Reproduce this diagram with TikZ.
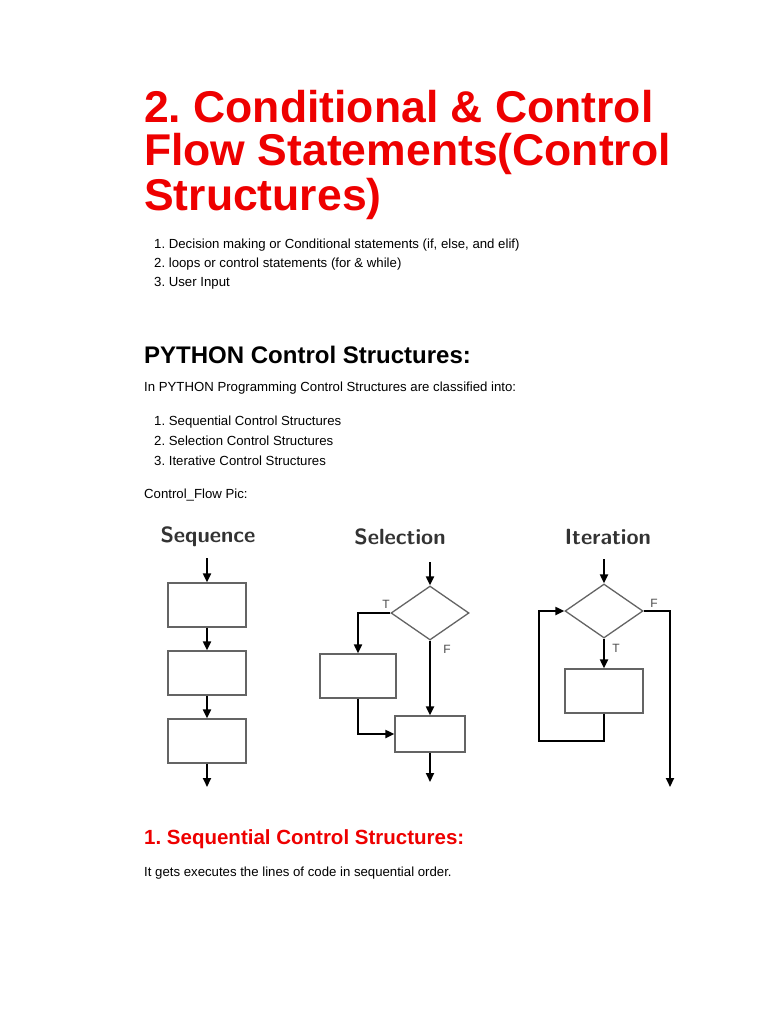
\documentclass[tikz,border=0pt]{standalone}
\usepackage{fontspec}
\setmainfont{Liberation Sans}
\usetikzlibrary{shapes.geometric,arrows.meta}
\definecolor{titlered}{RGB}{238,0,0}
\definecolor{boxgray}{RGB}{100,100,100}
\frenchspacing

\begin{document}
\begin{tikzpicture}[x=1pt,y=-1pt,
    every node/.style={inner sep=0pt},
    body/.style={anchor=west,font=\fontsize{13.2}{15}\selectfont},
    bigtitle/.style={anchor=west,font=\fontsize{44.5}{48}\selectfont\bfseries,text=titlered},
    procbox/.style={draw=boxgray,line width=1.3pt,minimum width=78pt,minimum height=44pt},
    decision/.style={draw=boxgray,line width=1.3pt,diamond,aspect=1.4,minimum width=78pt,minimum height=54pt},
    flow/.style={black,line width=2pt,-{Triangle[length=9pt,width=8pt]}},
    charthead/.style={font=\fontsize{22}{24}\selectfont\sffamily\bfseries,text=black!80},
    tf/.style={font=\fontsize{12}{14}\selectfont,text=black!70}]
\useasboundingbox (0,0) rectangle (768,1024);
\fill[white] (0,0) rectangle (768,1024);
% page text
\node[bigtitle] (t1) at (144,107) {2. Conditional \& Control};
\node[bigtitle] (t2) at (144,154) {Flow Statements(Control};
\node[bigtitle] (t3) at (144,199) {Structures)};
\node[body] (l1) at (154,245) {1. Decision making or Conditional statements (if, else, and elif)};
\node[body] (l2) at (154,264) {2. loops or control statements (for \& while)};
\node[body] (l3) at (154,283) {3. User Input};
\node[anchor=west,font=\fontsize{24}{26}\selectfont\bfseries] (h1) at (144,355) {PYTHON Control Structures:};
\node[body] (p1) at (144,388) {In PYTHON Programming Control Structures are classified into:};
\node[body] (k1) at (154,422) {1. Sequential Control Structures};
\node[body] (k2) at (154,441) {2. Selection Control Structures};
\node[body] (k3) at (154,461) {3. Iterative Control Structures};
\node[body] (p2) at (144,495) {Control\_Flow Pic:};
\node[anchor=west,font=\fontsize{20.5}{22}\selectfont\bfseries,text=titlered] (h2) at (144,839) {1. Sequential Control Structures:};
\node[body] (p3) at (144,873) {It gets executes the lines of code in sequential order.};

% sequence
\node[charthead] (seqh) at (208,537) {Sequence};
\node[procbox] (s1) at (207,605) {};
\node[procbox] (s2) at (207,673) {};
\node[procbox] (s3) at (207,741) {};
\coordinate (sin) at (207,558);
\coordinate (sout) at (207,787);
\draw[flow] (sin) -- (s1);
\draw[flow] (s1) -- (s2);
\draw[flow] (s2) -- (s3);
\draw[flow] (s3) -- (sout);

% selection
\node[charthead] (selh) at (400,537) {Selection};
\node[decision] (d1) at (430,613) {};
\node[procbox,minimum width=76pt] (b1) at (358,676) {};
\node[procbox,minimum width=70pt,minimum height=36pt] (b2) at (430,734) {};
\coordinate (selin) at (430,562);
\coordinate (selout) at (430,782);
\draw[flow] (selin) -- (d1.north);
\draw[flow] (d1.west) -| (b1.north);
\draw[flow] (b1.south) |- (b2.west);
\draw[flow] (d1.south) -- (b2.north);
\draw[flow] (b2.south) -- (selout);
\node[tf] (selt) at (386,604) {T};
\node[tf] (self) at (447,649) {F};

% iteration
\node[charthead] (ith) at (608,537) {Iteration};
\node[decision] (d2) at (604,611) {};
\node[procbox] (b3) at (604,691) {};
\coordinate (itin) at (604,559);
\coordinate (itout) at (670,787);
\coordinate (loop) at (539,741);
\draw[flow] (itin) -- (d2.north);
\draw[flow] (d2.south) -- (b3.north);
\draw[flow] (d2.east) -| (itout);
\draw[flow] (b3.south) |- (loop) |- (d2.west);
\node[tf] (itf) at (654,603) {F};
\node[tf] (itt) at (616,648) {T};
\end{tikzpicture}
\end{document}
